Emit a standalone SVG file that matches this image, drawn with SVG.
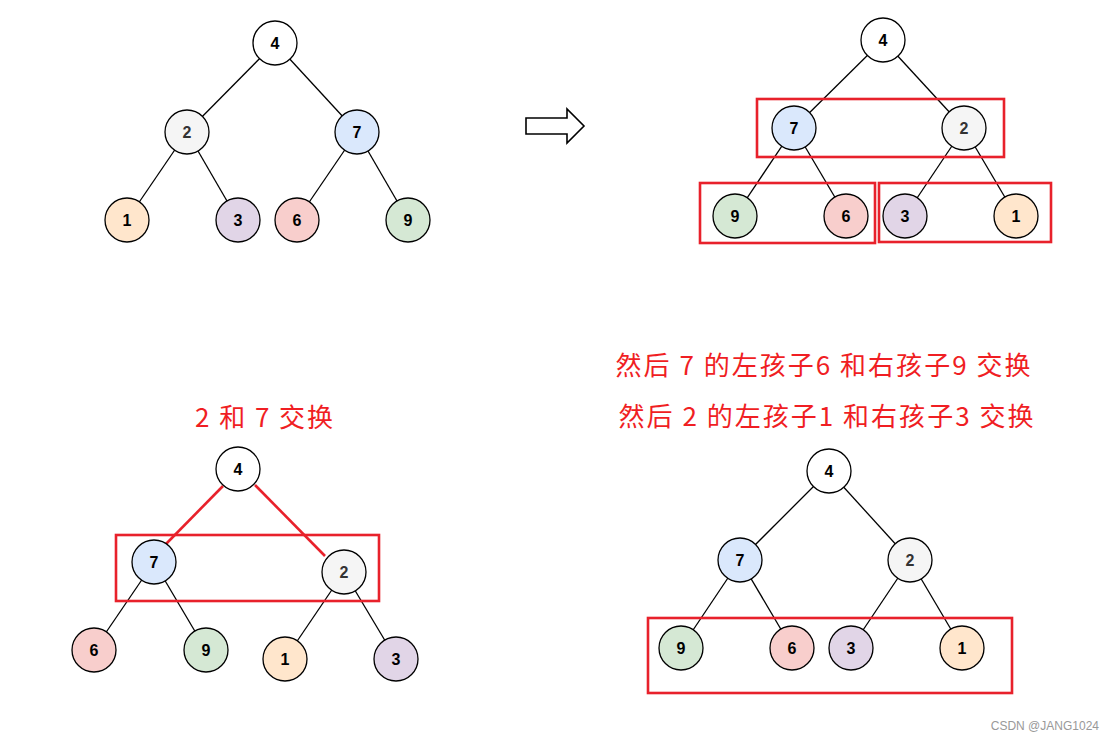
<svg xmlns="http://www.w3.org/2000/svg" width="1114" height="741" viewBox="0 0 1114 741">
<style>
.n{stroke:#000;stroke-width:1.3}
.t{font-family:"Liberation Sans",Arial,sans-serif;font-weight:bold;font-size:16px;text-anchor:middle;dominant-baseline:central;fill:#000}
.g{fill:#333}
.e{stroke:#000;stroke-width:1.3;fill:none}
.re{stroke:#e8212b;stroke-width:2.6;fill:none}
.box{stroke:#e8212b;stroke-width:2.6;fill:none}
.cn{font-family:"Noto Sans CJK SC",sans-serif;font-size:26px;fill:#f01e23;text-anchor:middle}
.w{fill:#fff}.c2{fill:#f5f5f5}.c7{fill:#dae8fc}.c1{fill:#ffe6cc}.c3{fill:#e1d5e7}.c6{fill:#f8cecc}.c9{fill:#d5e8d4}
</style>
<rect width="1114" height="741" fill="#fff"/>
<g id="connectors">
<line class="e" x1="275" y1="43" x2="187" y2="132"/>
<line class="e" x1="275" y1="43" x2="357" y2="132"/>
<line class="e" x1="187" y1="132" x2="127" y2="220"/>
<line class="e" x1="187" y1="132" x2="238" y2="220"/>
<line class="e" x1="357" y1="132" x2="297" y2="220"/>
<line class="e" x1="357" y1="132" x2="408" y2="220"/>
<line class="e" x1="883" y1="40" x2="794" y2="128"/>
<line class="e" x1="883" y1="40" x2="964" y2="128"/>
<line class="e" x1="794" y1="128" x2="735" y2="216"/>
<line class="e" x1="794" y1="128" x2="846" y2="216"/>
<line class="e" x1="964" y1="128" x2="905" y2="216"/>
<line class="e" x1="964" y1="128" x2="1016" y2="216"/>
<line class="re" x1="223" y1="486" x2="165" y2="545"/>
<line class="re" x1="255" y1="485" x2="325" y2="556"/>
<line class="e" x1="154" y1="562" x2="94" y2="650"/>
<line class="e" x1="154" y1="562" x2="206" y2="650"/>
<line class="e" x1="344" y1="572" x2="285" y2="659"/>
<line class="e" x1="344" y1="572" x2="396" y2="659"/>
<line class="e" x1="829" y1="471" x2="740" y2="560"/>
<line class="e" x1="829" y1="471" x2="910" y2="560"/>
<line class="e" x1="740" y1="560" x2="681" y2="648"/>
<line class="e" x1="740" y1="560" x2="792" y2="648"/>
<line class="e" x1="910" y1="560" x2="851" y2="648"/>
<line class="e" x1="910" y1="560" x2="962" y2="648"/>
</g>
<g id="t1-4"><circle class="n w" cx="275" cy="43" r="22"/><text class="t" x="275" y="43">4</text></g>
<g id="t1-2"><circle class="n c2" cx="187" cy="132" r="22"/><text class="t g" x="187" y="132">2</text></g>
<g id="t1-7"><circle class="n c7" cx="357" cy="132" r="22"/><text class="t" x="357" y="132">7</text></g>
<g id="t1-1"><circle class="n c1" cx="127" cy="220" r="22"/><text class="t" x="127" y="220">1</text></g>
<g id="t1-3"><circle class="n c3" cx="238" cy="220" r="22"/><text class="t" x="238" y="220">3</text></g>
<g id="t1-6"><circle class="n c6" cx="297" cy="220" r="22"/><text class="t" x="297" y="220">6</text></g>
<g id="t1-9"><circle class="n c9" cx="408" cy="220" r="22"/><text class="t" x="408" y="220">9</text></g>
<g id="arrow"><polygon points="526,118 567,118 567,109 584,126 567,143 567,134 526,134" fill="#fff" stroke="#000" stroke-width="1.6"/></g>
<g id="t2-4"><circle class="n w" cx="883" cy="40" r="22"/><text class="t" x="883" y="40">4</text></g>
<g id="t2-7"><circle class="n c7" cx="794" cy="128" r="22"/><text class="t" x="794" y="128">7</text></g>
<g id="t2-2"><circle class="n c2" cx="964" cy="128" r="22"/><text class="t g" x="964" y="128">2</text></g>
<g id="t2-9"><circle class="n c9" cx="735" cy="216" r="22"/><text class="t" x="735" y="216">9</text></g>
<g id="t2-6"><circle class="n c6" cx="846" cy="216" r="22"/><text class="t" x="846" y="216">6</text></g>
<g id="t2-3"><circle class="n c3" cx="905" cy="216" r="22"/><text class="t" x="905" y="216">3</text></g>
<g id="t2-1"><circle class="n c1" cx="1016" cy="216" r="22"/><text class="t" x="1016" y="216">1</text></g>
<g id="t2-boxes">
<rect class="box" x="757" y="99" width="247" height="58"/>
<rect class="box" x="700" y="183" width="175" height="60"/>
<rect class="box" x="879" y="183" width="172" height="59"/>
</g>
<g id="t3-title"><text class="cn" x="264" y="427" textLength="138" lengthAdjust="spacing">2 和 7 交换</text></g>
<g id="t3-4"><circle class="n w" cx="238" cy="469" r="22"/><text class="t" x="238" y="469">4</text></g>
<g id="t3-7"><circle class="n c7" cx="154" cy="562" r="22"/><text class="t" x="154" y="562">7</text></g>
<g id="t3-2"><circle class="n c2" cx="344" cy="572" r="22"/><text class="t g" x="344" y="572">2</text></g>
<g id="t3-6"><circle class="n c6" cx="94" cy="650" r="22"/><text class="t" x="94" y="650">6</text></g>
<g id="t3-9"><circle class="n c9" cx="206" cy="650" r="22"/><text class="t" x="206" y="650">9</text></g>
<g id="t3-1"><circle class="n c1" cx="285" cy="659" r="22"/><text class="t" x="285" y="659">1</text></g>
<g id="t3-3"><circle class="n c3" cx="396" cy="659" r="22"/><text class="t" x="396" y="659">3</text></g>
<g id="t3-box"><rect class="box" x="116" y="535" width="263" height="66"/></g>
<g id="t4-title">
<text class="cn" x="823" y="375" textLength="415" lengthAdjust="spacing">然后 7 的左孩子6 和右孩子9 交换</text>
<text class="cn" x="826" y="426" textLength="415" lengthAdjust="spacing">然后 2 的左孩子1 和右孩子3 交换</text>
</g>
<g id="t4-4"><circle class="n w" cx="829" cy="471" r="22"/><text class="t" x="829" y="471">4</text></g>
<g id="t4-7"><circle class="n c7" cx="740" cy="560" r="22"/><text class="t" x="740" y="560">7</text></g>
<g id="t4-2"><circle class="n c2" cx="910" cy="560" r="22"/><text class="t g" x="910" y="560">2</text></g>
<g id="t4-9"><circle class="n c9" cx="681" cy="648" r="22"/><text class="t" x="681" y="648">9</text></g>
<g id="t4-6"><circle class="n c6" cx="792" cy="648" r="22"/><text class="t" x="792" y="648">6</text></g>
<g id="t4-3"><circle class="n c3" cx="851" cy="648" r="22"/><text class="t" x="851" y="648">3</text></g>
<g id="t4-1"><circle class="n c1" cx="962" cy="648" r="22"/><text class="t" x="962" y="648">1</text></g>
<g id="t4-box"><rect class="box" x="648" y="618" width="364" height="75"/></g>
<g id="watermark"><text x="1099" y="730" font-family="Liberation Sans,Arial,sans-serif" font-size="12" fill="#999" text-anchor="end">CSDN @JANG1024</text></g>
</svg>
